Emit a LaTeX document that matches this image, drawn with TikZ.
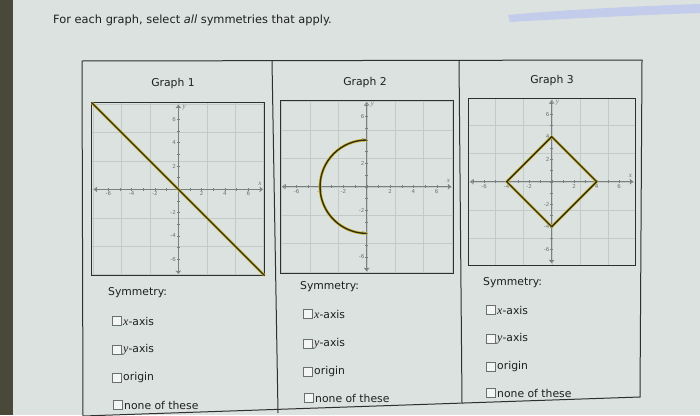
\documentclass[tikz,border=0pt]{standalone}
\usepackage{fontspec}
\setmainfont{DejaVu Sans}
\newfontfamily\varfont{Liberation Serif}
\usetikzlibrary{arrows.meta}
\definecolor{bg}{HTML}{DCE2DF}
\definecolor{strip}{HTML}{4A4939}
\definecolor{linec}{HTML}{2E302E}
\definecolor{gridc}{HTML}{C3CAC7}
\definecolor{axisc}{HTML}{7A807D}
\definecolor{tickc}{HTML}{6E7471}
\definecolor{curvec}{HTML}{332D0E}
\definecolor{halo}{HTML}{CDBB3A}
\definecolor{boxc}{HTML}{6A706D}
\definecolor{textc}{HTML}{1E201F}
\definecolor{glare}{HTML}{B3BEF2}
\newcommand\var[1]{{\varfont\itshape\fontsize{12}{13}\selectfont #1}}
\tikzset{
  frameline/.style={draw=linec, line width=0.9pt},
  tableline/.style={draw=linec, line width=1pt},
  gridline/.style={draw=gridc, line width=0.35pt},
  axisline/.style={draw=axisc, line width=0.6pt, {Straight Barb[length=3pt,width=5pt]}-{Straight Barb[length=3pt,width=5pt]}},
  tickline/.style={draw=axisc, line width=0.4pt},
  ticklab/.style={font=\fontsize{5.5}{6.5}\selectfont, text=tickc, inner sep=0.8pt},
  axlab/.style={font=\varfont\fontsize{7}{8}\selectfont\itshape, text=tickc, inner sep=0.5pt},
  curvehalo/.style={draw=halo, line width=2.8pt, line join=round},
  curve/.style={draw=curvec, line width=1.4pt, line join=round},
  heading/.style={font=\fontsize{10.8}{13}\selectfont, text=textc, inner sep=0},
  cbox/.style={draw=boxc, fill=white!70!bg, minimum size=9pt, inner sep=0, line width=0.6pt},
  opt/.style={font=\fontsize{10.8}{13}\selectfont, text=textc, anchor=west, inner sep=0},
}
\newcommand\drawplane[1]{%
  \draw[gridline] (-7.4,-7.4) grid (7.4,7.4);
  \draw[frameline] (-7.4,-7.4) rectangle (7.4,7.4);
  \coordinate (#1xl) at (-7.25,0);
  \coordinate (#1xr) at (7.25,0);
  \coordinate (#1yb) at (0,-7.25);
  \coordinate (#1yt) at (0,7.25);
  \draw[axisline] (#1xl) -- (#1xr);
  \draw[axisline] (#1yb) -- (#1yt);
  \foreach \i in {-7,...,7} {
    \draw[tickline] (\i,-0.13) -- (\i,0.13);
    \draw[tickline] (-0.13,\i) -- (0.13,\i);
  }
  \foreach \i/\n in {-6/a,-4/b,-2/c,2/d,4/e,6/f} {
    \node[ticklab, below] (#1tx\n) at (\i,-0.12) {\i};
    \node[ticklab, left] (#1ty\n) at (-0.12,\i) {\i};
  }
  \node[axlab] (#1xlab) at (7.0,0.5) {x};
  \node[axlab] (#1ylab) at (0.5,7.0) {y};
}
\begin{document}
\begin{tikzpicture}[x=1pt,y=-1pt]
\useasboundingbox (0,0) rectangle (700,415);
\fill[bg] (0,0) rectangle (700,415);
\fill[strip] (0,0) rectangle (13,415);
% glare
\fill[glare, opacity=0.6] (508,15) .. controls (560,10) and (640,6) .. (700,4) -- (700,13) .. controls (640,15) and (560,19) .. (510,22) -- cycle;

\node[heading, anchor=west, font=\fontsize{11.4}{13}\selectfont] (title) at (53,20) {For each graph, select \textit{all} symmetries that apply.};

% table
\coordinate (tl) at (82,61);
\coordinate (tr) at (642,60);
\coordinate (bl) at (83,416);
\coordinate (br) at (640,397);
\coordinate (d1t) at (272,61);
\coordinate (d1b) at (278,413);
\coordinate (d2t) at (459,60);
\coordinate (d2b) at (462,403);
\draw[tableline] (bl) -- (tl) -- (tr) -- (br) -- (bl);
\draw[tableline] (d1t) -- (d1b);
\draw[tableline] (d2t) -- (d2b);

% titles
\node[heading] (g1title) at (173,84) {Graph 1};
\node[heading] (g2title) at (365,83) {Graph 2};
\node[heading] (g3title) at (552,81) {Graph 3};

% graph 1
\begin{scope}[shift={(178.3,189.3)}, x=11.67pt, y=11.67pt]
  \drawplane{ga}
  \coordinate (l1a) at (-7.4,7.4);
  \coordinate (l1b) at (7.4,-7.4);
  \draw[curvehalo] (l1a) -- (l1b);
  \draw[curve] (l1a) -- (l1b);
\end{scope}

% graph 2
\begin{scope}[shift={(366.7,186.7)}, x=11.67pt, y=11.67pt]
  \drawplane{gb}
  \coordinate (c2top) at (0,4);
  \draw[curvehalo] (c2top) arc[start angle=90, end angle=270, radius=4];
  \draw[curve] (c2top) arc[start angle=90, end angle=270, radius=4];
\end{scope}

% graph 3
\begin{scope}[shift={(551.7,181.7)}, x=11.25pt, y=11.25pt]
  \drawplane{gc}
  \coordinate (dn) at (0,4);
  \coordinate (de) at (4,0);
  \coordinate (ds) at (0,-4);
  \coordinate (dw) at (-4,0);
  \draw[curvehalo] (dn) -- (de) -- (ds) -- (dw) -- cycle;
  \draw[curve] (dn) -- (de) -- (ds) -- (dw) -- cycle;
\end{scope}

% options column 1
\node[opt] (s1) at (108,293) {Symmetry:};
\node[cbox] (c1a) at (117,321) {};
\node[opt] (t1a) at (123,321) {\var{x}-axis};
\node[cbox] (c1b) at (117,350) {};
\node[opt] (t1b) at (123,350) {\var{y}-axis};
\node[cbox] (c1c) at (117,378) {};
\node[opt] (t1c) at (123,378) {origin};
\node[cbox] (c1d) at (118,405) {};
\node[opt] (t1d) at (124,405) {none of these};

% options column 2
\node[opt] (s2) at (300,287) {Symmetry:};
\node[cbox] (c2a) at (308,314) {};
\node[opt] (t2a) at (314,314) {\var{x}-axis};
\node[cbox] (c2b) at (308,344) {};
\node[opt] (t2b) at (314,344) {\var{y}-axis};
\node[cbox] (c2c) at (308,372) {};
\node[opt] (t2c) at (314,372) {origin};
\node[cbox] (c2d) at (309,398) {};
\node[opt] (t2d) at (315,398) {none of these};

% options column 3
\node[opt] (s3) at (483,283) {Symmetry:};
\node[cbox] (c3a) at (491,310) {};
\node[opt] (t3a) at (497,310) {\var{x}-axis};
\node[cbox] (c3b) at (491,339) {};
\node[opt] (t3b) at (497,339) {\var{y}-axis};
\node[cbox] (c3c) at (491,367) {};
\node[opt] (t3c) at (497,367) {origin};
\node[cbox] (c3d) at (491,393) {};
\node[opt] (t3d) at (497,393) {none of these};
\end{tikzpicture}
\end{document}
